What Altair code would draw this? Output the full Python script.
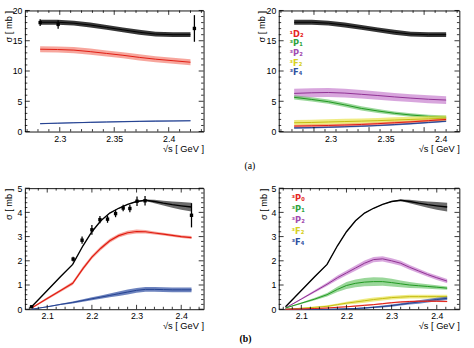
import altair as alt
import pandas as pd

# ---------------- data: row (a) ----------------
x_a = [2.282, 2.298, 2.313, 2.328, 2.343, 2.358, 2.373, 2.388, 2.404, 2.420]
tot_a = [18.05, 18.05, 17.9, 17.6, 17.2, 16.8, 16.4, 16.1, 16.0, 16.0]
tot_a_err = [0.4, 0.4, 0.4, 0.4, 0.4, 0.4, 0.4, 0.4, 0.4, 0.4]
red_a = [13.6, 13.55, 13.45, 13.2, 12.9, 12.6, 12.25, 11.95, 11.7, 11.45]
red_a_err = [0.5, 0.5, 0.5, 0.5, 0.5, 0.5, 0.5, 0.5, 0.5, 0.5]
blue_a = [1.3, 1.38, 1.45, 1.52, 1.58, 1.63, 1.68, 1.72, 1.75, 1.78]
blue_a_err = [0.09, 0.09, 0.09, 0.09, 0.09, 0.09, 0.09, 0.09, 0.09, 0.09]

p2_a = [6.3, 6.4, 6.45, 6.35, 6.15, 5.95, 5.72, 5.52, 5.33, 5.2]
p2_a_err = [0.75, 0.75, 0.75, 0.72, 0.7, 0.68, 0.66, 0.65, 0.65, 0.65]
p1_a = [5.65, 5.3, 4.93, 4.4, 3.82, 3.4, 3.02, 2.73, 2.5, 2.37]
p1_a_err = [0.35, 0.35, 0.35, 0.35, 0.35, 0.33, 0.3, 0.28, 0.27, 0.27]
f2_a = [1.45, 1.5, 1.58, 1.65, 1.72, 1.8, 1.9, 2.0, 2.1, 2.2]
f2_a_err = [0.45, 0.45, 0.45, 0.45, 0.45, 0.45, 0.45, 0.45, 0.45, 0.45]
d2_a = [0.9, 0.95, 1.0, 1.08, 1.17, 1.3, 1.45, 1.6, 1.8, 2.0]
d2_a_err = [0.2, 0.2, 0.2, 0.2, 0.2, 0.2, 0.2, 0.2, 0.2, 0.2]
f4_a = [0.6, 0.65, 0.72, 0.8, 0.9, 1.0, 1.15, 1.3, 1.5, 1.7]
f4_a_err = [0.14, 0.14, 0.14, 0.14, 0.14, 0.14, 0.14, 0.14, 0.14, 0.14]

pts_a_x = [2.282, 2.2985, 2.4236]
pts_a_y = [18.0, 17.7, 17.03]
pts_a_err = [0.55, 0.7, 2.2]

# ---------------- data: row (b) ----------------
x_b = [2.065, 2.10, 2.13, 2.157, 2.18, 2.20, 2.22, 2.24, 2.26, 2.28, 2.30, 2.32, 2.34, 2.36, 2.38, 2.40, 2.423]
tot_b = [0.1, 0.77, 1.35, 1.85, 2.62, 3.2, 3.65, 3.97, 4.17, 4.33, 4.45, 4.5, 4.45, 4.38, 4.32, 4.27, 4.22]
tot_b_err = [0.01, 0.01, 0.01, 0.01, 0.01, 0.01, 0.01, 0.01, 0.01, 0.01, 0.02, 0.03, 0.07, 0.1, 0.13, 0.16, 0.18]
red_b = [0.05, 0.44, 0.77, 1.07, 1.68, 2.15, 2.52, 2.83, 3.04, 3.16, 3.21, 3.2, 3.15, 3.1, 3.05, 3.0, 2.96]
red_b_err = [0.03, 0.05, 0.06, 0.07, 0.08, 0.08, 0.08, 0.08, 0.08, 0.08, 0.08, 0.07, 0.06, 0.06, 0.06, 0.06, 0.06]
blue_b = [0.0, 0.1, 0.2, 0.28, 0.36, 0.43, 0.5, 0.57, 0.64, 0.71, 0.78, 0.82, 0.82, 0.81, 0.8, 0.8, 0.8]
blue_b_err = [0.01, 0.02, 0.03, 0.04, 0.05, 0.06, 0.07, 0.08, 0.09, 0.1, 0.1, 0.1, 0.1, 0.1, 0.1, 0.1, 0.1]

p2_b = [0.05, 0.42, 0.74, 1.03, 1.3, 1.5, 1.7, 1.9, 2.05, 2.08, 2.0, 1.9, 1.73, 1.58, 1.43, 1.3, 1.16]
p2_b_err = [0.01, 0.03, 0.05, 0.07, 0.09, 0.1, 0.11, 0.11, 0.11, 0.11, 0.11, 0.1, 0.1, 0.09, 0.09, 0.09, 0.09]
p1_b = [0.05, 0.25, 0.42, 0.6, 0.82, 0.98, 1.07, 1.12, 1.14, 1.14, 1.1, 1.05, 1.0, 0.97, 0.94, 0.91, 0.87]
p1_b_err = [0.01, 0.03, 0.05, 0.07, 0.11, 0.14, 0.16, 0.17, 0.18, 0.17, 0.16, 0.14, 0.12, 0.1, 0.09, 0.08, 0.07]
f2_b = [0.0, 0.04, 0.08, 0.12, 0.19, 0.25, 0.3, 0.35, 0.4, 0.44, 0.48, 0.5, 0.52, 0.52, 0.52, 0.52, 0.52]
f2_b_err = [0.01, 0.02, 0.03, 0.04, 0.05, 0.06, 0.07, 0.08, 0.08, 0.08, 0.08, 0.08, 0.08, 0.08, 0.08, 0.08, 0.08]
p0_b = [0.0, 0.01, 0.03, 0.05, 0.08, 0.1, 0.13, 0.16, 0.19, 0.23, 0.27, 0.3, 0.32, 0.33, 0.33, 0.33, 0.32]
p0_b_err = [0.01, 0.01, 0.01, 0.02, 0.02, 0.02, 0.03, 0.03, 0.03, 0.03, 0.03, 0.03, 0.03, 0.03, 0.03, 0.03, 0.03]
f4_b = [0.0, 0.0, 0.0, 0.0, 0.01, 0.02, 0.03, 0.05, 0.08, 0.11, 0.15, 0.2, 0.25, 0.3, 0.35, 0.4, 0.45]
f4_b_err = [0.01, 0.01, 0.01, 0.01, 0.01, 0.02, 0.02, 0.03, 0.03, 0.04, 0.05, 0.05, 0.06, 0.07, 0.07, 0.07, 0.07]

pts_b_x = [2.065, 2.158, 2.178, 2.200, 2.218, 2.235, 2.253, 2.270, 2.285, 2.301, 2.319, 2.423]
pts_b_y = [0.1, 2.07, 2.85, 3.28, 3.70, 3.72, 3.95, 4.18, 4.16, 4.46, 4.48, 3.88]
pts_b_err = [0.05, 0.1, 0.15, 0.2, 0.15, 0.15, 0.15, 0.13, 0.15, 0.2, 0.2, 0.5]

# ---------------- axes / labels ----------------
xmaj_a = [2.30, 2.35, 2.40]
xmin_a = [2.27, 2.28, 2.29, 2.31, 2.32, 2.33, 2.34, 2.36, 2.37, 2.38, 2.39, 2.41, 2.42, 2.43]
ymaj_a = [0, 5, 10, 15, 20]
ymin_a = [1, 2, 3, 4, 6, 7, 8, 9, 11, 12, 13, 14, 16, 17, 18, 19]
xmaj_b = [2.1, 2.2, 2.3, 2.4]
xmin_b = [2.06, 2.08, 2.12, 2.14, 2.16, 2.18, 2.22, 2.24, 2.26, 2.28, 2.32, 2.34, 2.36, 2.38, 2.42, 2.44]
ymaj_b = [0, 1, 2, 3, 4, 5]
ymin_b = [0.2, 0.4, 0.6, 0.8, 1.2, 1.4, 1.6, 1.8, 2.2, 2.4, 2.6, 2.8, 3.2, 3.4, 3.6, 3.8, 4.2, 4.4, 4.6, 4.8]

legend_a = ["¹D₂", "³P₁", "³P₂", "³F₂", "³F₄"]
legend_b = ["³P₀", "³P₁", "³P₂", "³F₂", "³F₄"]
legend_colors = ["#e5251d", "#2fa23c", "#a24bb0", "#d6d020", "#2f4f9f"]
panel_tags = ["(a)", "(b)"]
x_title = "√s [ GeV ]"
y_title = "σ [ mb ]"

FONT = "Liberation Sans"

# style per series: (band fill, band opacity, line colour)
S_BLACK_A = ("#262626", 0.92, "#000000")
S_BLACK_B = ("#3a3a3a", 0.75, "#000000")
S_RED = ("#f26a5c", 0.6, "#e01b10")
S_BLUE = ("#3c5aa8", 0.75, "#22408f")
S_PURPLE = ("#c070c8", 0.62, "#8e2f92")
S_GREEN = ("#5cbf5c", 0.62, "#1f971f")
S_YELLOW = ("#e6e040", 0.65, "#c2bb10")


def panel(w, h, xdom, ydom, xmaj, xmin, ymaj, ymin, xfmt, bands, pts=None,
          legend=None, leg_x=12, leg_y0=24, leg_dy=9.7, label_dx=0, title_x=-13):
    xs = alt.Scale(domain=xdom, nice=False, zero=False)
    ys = alt.Scale(domain=ydom, nice=False, zero=False)
    xa = alt.Axis(values=xmaj, format=xfmt, title=x_title, titleAnchor="end",
                  ticks=False, domain=False, grid=False, labelFlush=False,
                  labelOffset=label_dx, labelPadding=3, titlePadding=0)
    ya = alt.Axis(values=ymaj, format="d", title=y_title, titleAnchor="end",
                  ticks=False, domain=False, grid=False, labelFlush=False,
                  labelPadding=3, titleX=title_x, titleY=0, titleAlign="right",
                  titleBaseline="bottom", titleAngle=270)

    def X(f):
        return alt.X(f, type="quantitative", scale=xs, axis=xa)

    def Y(f):
        return alt.Y(f, type="quantitative", scale=ys, axis=ya)

    layers = []
    for xv, c, e, st, lw in bands:
        df = pd.DataFrame({"x": xv, "c": c,
                           "lo": [a - b for a, b in zip(c, e)],
                           "hi": [a + b for a, b in zip(c, e)]})
        layers.append(alt.Chart(df).mark_area(color=st[0], opacity=st[1])
                      .encode(x=X("x"), y=Y("lo"), y2="hi"))
        layers.append(alt.Chart(df).mark_line(color=st[2], strokeWidth=lw)
                      .encode(x=X("x"), y=Y("c")))
    if pts is not None:
        px, py, pe = pts
        dp = pd.DataFrame({"x": px, "y": py,
                           "lo": [a - b for a, b in zip(py, pe)],
                           "hi": [a + b for a, b in zip(py, pe)]})
        layers.append(alt.Chart(dp).mark_rule(color="black", strokeWidth=1.3)
                      .encode(x=X("x"), y=Y("lo"), y2="hi"))
        layers.append(alt.Chart(dp).mark_square(color="black", size=12, opacity=1)
                      .encode(x=X("x"), y=Y("y")))

    # inward ticks on all four sides
    for vals, L in ((xmaj, 4.5), (xmin, 2.5)):
        base = alt.Chart(pd.DataFrame({"v": vals})).mark_rule(color="black", strokeWidth=0.8)
        layers.append(base.encode(x=X("v"), y=alt.value(h), y2=alt.value(h - L)))
        layers.append(base.encode(x=X("v"), y=alt.value(0), y2=alt.value(L)))
    for vals, L in ((ymaj, 5), (ymin, 2.5)):
        base = alt.Chart(pd.DataFrame({"v": vals})).mark_rule(color="black", strokeWidth=0.8)
        layers.append(base.encode(y=Y("v"), x=alt.value(0), x2=alt.value(L)))
        layers.append(base.encode(y=Y("v"), x=alt.value(w), x2=alt.value(w - L)))

    if legend is not None:
        for i, (lab, col) in enumerate(zip(legend, legend_colors)):
            layers.append(
                alt.Chart(pd.DataFrame({"t": [lab]}))
                .mark_text(align="left", baseline="middle", font="DejaVu Sans",
                           fontWeight="bold", fontSize=8.5, color=col)
                .encode(text="t:N", x=alt.value(leg_x), y=alt.value(leg_y0 + i * leg_dy))
            )

    return alt.layer(*layers).properties(
        width=w, height=h,
        view=alt.ViewBackground(stroke="#111111", strokeWidth=1))


XD_A = [2.268, 2.432]
XD_B = [2.05, 2.45]

pA1 = panel(183, 124, XD_A, [0, 20], xmaj_a, xmin_a, ymaj_a, ymin_a, ".2~f",
            [(x_a, tot_a, tot_a_err, S_BLACK_A, 1.0),
             (x_a, red_a, red_a_err, S_RED, 1.0),
             (x_a, blue_a, blue_a_err, S_BLUE, 1.0)],
            pts=(pts_a_x, pts_a_y, pts_a_err), title_x=-11.5)
pA2 = panel(185, 124, XD_A, [0, 20], xmaj_a, xmin_a, ymaj_a, ymin_a, ".2~f",
            [(x_a, tot_a, tot_a_err, S_BLACK_A, 1.0),
             (x_a, p2_a, p2_a_err, S_PURPLE, 1.0),
             (x_a, p1_a, p1_a_err, S_GREEN, 1.0),
             (x_a, f2_a, f2_a_err, S_YELLOW, 1.0),
             (x_a, f4_a, f4_a_err, S_BLUE, 1.0),
             (x_a, d2_a, d2_a_err, S_RED, 1.0)],
            legend=legend_a, leg_x=11, leg_y0=24, leg_dy=9.8, label_dx=17, title_x=-12.5)
pB1 = panel(183, 124, XD_B, [0, 5], xmaj_b, xmin_b, ymaj_b, ymin_b, ".1f",
            [(x_b, tot_b, tot_b_err, S_BLACK_B, 1.4),
             (x_b, red_b, red_b_err, S_RED, 1.2),
             (x_b, blue_b, blue_b_err, S_BLUE, 1.0)],
            pts=(pts_b_x, pts_b_y, pts_b_err), title_x=-11.5)
pB2 = panel(185, 124, XD_B, [0, 5], xmaj_b, xmin_b, ymaj_b, ymin_b, ".1f",
            [(x_b, tot_b, tot_b_err, S_BLACK_B, 1.4),
             (x_b, p2_b, p2_b_err, S_PURPLE, 1.0),
             (x_b, p1_b, p1_b_err, S_GREEN, 1.0),
             (x_b, f2_b, f2_b_err, S_YELLOW, 1.0),
             (x_b, f4_b, f4_b_err, S_BLUE, 1.0),
             (x_b, p0_b, p0_b_err, S_RED, 1.0)],
            legend=legend_b, leg_x=13, leg_y0=10, leg_dy=11.3, title_x=-11)


def tag(label, xpos, ypos, height, bold):
    return (alt.Chart(pd.DataFrame({"t": [label]}))
            .mark_text(align="center", baseline="middle", font="Liberation Serif",
                       fontSize=10, fontWeight="bold" if bold else "normal", color="black")
            .encode(text="t:N", x=alt.value(xpos), y=alt.value(ypos))
            .properties(width=460, height=height))


rowA = alt.hconcat(pA1, pA2, spacing=53)
rowB = alt.hconcat(pB1, pB2, spacing=54)
tagA = tag(panel_tags[0], 230.5, 13, 31, False)
tagB = tag(panel_tags[1], 226, 9, 12, True)

chart = (alt.vconcat(rowA, tagA, rowB, tagB, spacing=0)
         .properties(padding={"left": 3.5, "top": 1.5, "right": 0, "bottom": 0})
         .configure_view(stroke=None)
         .configure_axis(labelFont=FONT, titleFont=FONT, labelFontSize=9,
                         titleFontSize=9.5, titleFontWeight="normal",
                         labelColor="black", titleColor="black"))

chart.save("out.html", embed_options={"renderer": "svg", "actions": False})
